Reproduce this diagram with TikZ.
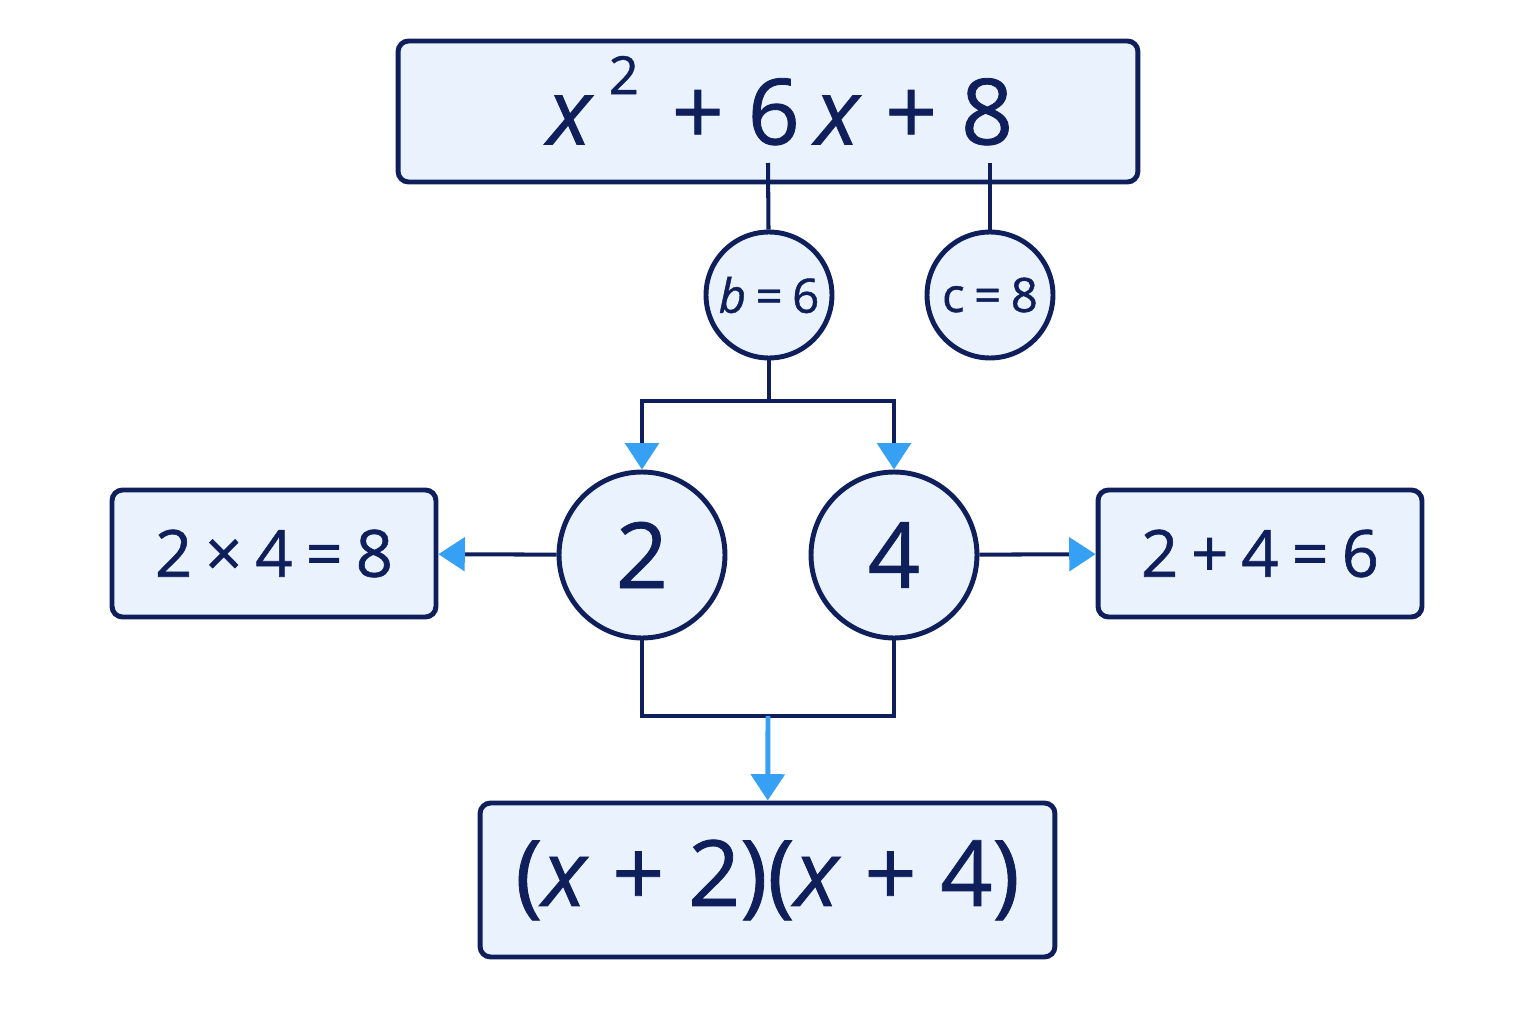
\documentclass[tikz,border=0pt]{standalone}
\usepackage{fontspec}
\setmainfont{Open Sans}[FakeBold=0.9]
\usetikzlibrary{arrows.meta,positioning}
\definecolor{navy}{HTML}{0F1F5C}
\definecolor{paleblue}{HTML}{EAF3FD}
\definecolor{tipblue}{HTML}{36A0F5}
\tikzset{
stepbox/.style={
  draw=navy, fill=paleblue, rounded corners=6pt,
  line width=2.8pt, text=navy, align=center, inner sep=0pt
  },
valcirc/.style={
  circle, draw=navy, fill=paleblue, line width=2.8pt,
  text=navy, inner sep=0pt
  },
conn/.style={
  draw=navy, line width=2.3pt
  },
tip/.style={
  -{Triangle[color=tipblue,length=15pt,width=19pt]}
  }
}
\begin{document}
\begin{tikzpicture}[x=0.02cm,y=-0.02cm]
\useasboundingbox (0,0) rectangle (1536,1024);

% quadratic
\node[stepbox, minimum width=14.8cm, minimum height=2.82cm,
      font=\fontsize{52}{58}\selectfont]
  (quad) at (768,111.5) {\hspace{14pt}\smash{\raisebox{-0.36em}{\textit{x}\,\raisebox{0.55em}{\fontsize{30}{34}\selectfont 2}\hspace{0.1em} + 6\,\textit{x} + 8}}};

% coefficients
\node[valcirc, minimum size=2.52cm, font=\fontsize{27}{30}\selectfont]
  (bsix) at (769,295) {\textit{b}\hspace{0.2em}=\hspace{0.2em}6};
\node[valcirc, minimum size=2.52cm, font=\fontsize{27}{30}\selectfont]
  (ceight) at (990,295) {c\hspace{0.2em}=\hspace{0.2em}8};

\coordinate (tb) at (768,163);
\coordinate (tc) at (990,163);
\draw[conn] (tb) -- (bsix);
\draw[conn] (tc) -- (ceight);

% the two numbers
\node[valcirc, minimum size=3.32cm, font=\fontsize{52}{58}\selectfont]
  (two) at (642,555) {2};
\node[valcirc, minimum size=3.32cm, font=\fontsize{52}{58}\selectfont]
  (four) at (894,555) {4};

\coordinate (split) at (769,401);
\draw[conn, tip] (bsix) -- (split) -| (two);
\draw[conn, tip] (split) -| (four);

% checks
\node[stepbox, minimum width=6.48cm, minimum height=2.54cm,
      font=\fontsize{37}{44}\selectfont]
  (prod) at (274,553.5) {2\hspace{0.2em}×\hspace{0.2em}4\hspace{0.2em}=\hspace{0.2em}8};
\node[stepbox, minimum width=6.48cm, minimum height=2.54cm,
      font=\fontsize{37}{44}\selectfont]
  (sum) at (1260,553.5) {2\hspace{0.2em}+\hspace{0.2em}4\hspace{0.2em}=\hspace{0.2em}6};

\draw[conn, tip] (two) -- (prod);
\draw[conn, tip] (four) -- (sum);

% factored form
\node[stepbox, minimum width=11.5cm, minimum height=3.08cm,
      font=\fontsize{52}{58}\selectfont]
  (result) at (767.5,880) {(\textit{x} + 2)(\textit{x} + 4)};

\coordinate (join) at (768,716);
\draw[conn] (two.south) |- (join) -| (four.south);
\draw[conn, draw=tipblue, line width=2.8pt, tip] (join) -- (result);

\end{tikzpicture}
\end{document}
